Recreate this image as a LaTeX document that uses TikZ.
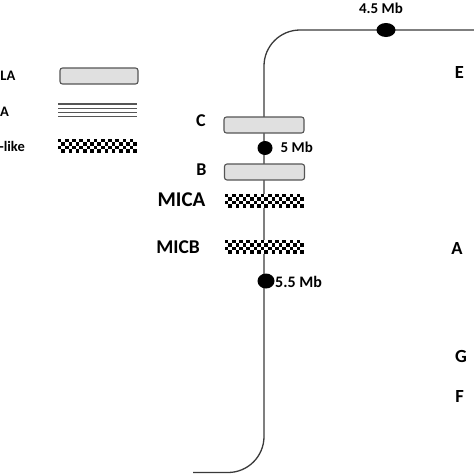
\documentclass[tikz,border=0pt]{standalone}
\usepackage{fontspec}
\setmainfont{Carlito}
\usetikzlibrary{shapes.geometric}
\definecolor{boxfill}{HTML}{E0E0E0}
\definecolor{boxline}{HTML}{555555}
\definecolor{chromline}{HTML}{3A3A3A}
\newcommand\checkfill[1]{%
  \foreach \i in {0,...,21}{\foreach \j in {0,...,3}{%
    \pgfmathtruncatemacro{\myparity}{mod(\i+\j,2)}%
    \ifnum\myparity=0
      \fill[black] ([xshift=\i*3.6pt, yshift=-\j*3.6pt]#1.north west) rectangle ++(3.6,3.6);
    \fi}}}
\tikzset{
  chrom/.style={draw=chromline, line width=1.3pt, rounded corners=36pt},
  genebox/.style={draw=boxline, fill=boxfill, rounded corners=2.5pt, line width=1.1pt,
    minimum width=80pt, minimum height=16pt, inner sep=0pt},
  checkbar/.style={minimum width=79.2pt, minimum height=14.4pt, inner sep=0pt, fill=white},
  blob/.style={ellipse, fill=black, inner sep=0pt},
  lbl/.style={font=\bfseries\fontsize{18.5}{18.5}\selectfont, inner sep=0pt},
  mb/.style={font=\bfseries\fontsize{15}{15}\selectfont, inner sep=0pt},
  leg/.style={font=\bfseries\fontsize{14.5}{14.5}\selectfont, inner sep=0pt, anchor=east},
  legline/.style={draw=boxline, line width=1.1pt}
}
\begin{document}
\begin{tikzpicture}[x=1pt,y=-1pt]
\useasboundingbox (0,0) rectangle (474,474);
% chromosome line
\coordinate (lowend) at (193,472.5);
\coordinate (lowcorner) at (264,472.5);
\coordinate (topcorner) at (264,30);
\coordinate (topend) at (474,30);
\draw[chrom] (lowend) -- (lowcorner) -- (topcorner) -- (topend);
% legend
\node[genebox, minimum width=78pt] (legbox) at (99,76) {};
\coordinate (l1a) at (58,104);   \coordinate (l1b) at (137,104);
\coordinate (l2a) at (58,108.2); \coordinate (l2b) at (137,108.2);
\coordinate (l3a) at (58,112.4); \coordinate (l3b) at (137,112.4);
\coordinate (l4a) at (58,116.6); \coordinate (l4b) at (137,116.6);
\draw[legline] (l1a) -- (l1b);
\draw[legline] (l2a) -- (l2b);
\draw[legline] (l3a) -- (l3b);
\draw[legline] (l4a) -- (l4b);
\node[checkbar] (legcheck) at (97.6,146) {};
\checkfill{legcheck}
\node[leg] (legt1) at (15.5,76) {LA};
\node[leg] (legt2) at (9,112) {A};
\node[leg] (legt3) at (25,146.5) {-like};
% genes
\node[genebox] (boxC) at (264,125) {};
\node[genebox] (boxB) at (264.5,172) {};
\node[checkbar] (mica) at (264.6,201) {};
\checkfill{mica}
\node[checkbar] (micb) at (264.6,247) {};
\checkfill{micb}
% markers
\node[blob, minimum width=19pt, minimum height=14pt] (d45) at (386,30) {};
\node[blob, minimum width=15pt, minimum height=14pt] (d5) at (265,148) {};
\node[blob, minimum width=17pt, minimum height=15pt] (d55) at (266,281) {};
\node[mb] (t45) at (381,8) {4.5 Mb};
\node[mb, anchor=west] (t5) at (280.5,147.5) {5 Mb};
\node[mb, anchor=west, font=\bfseries\fontsize{16}{16}\selectfont] (t55) at (275,282) {5.5 Mb};
% labels
\node[lbl, font=\bfseries\fontsize{18}{18}\selectfont] (tC) at (201,121) {C};
\node[lbl, font=\bfseries\fontsize{18}{18}\selectfont] (tB) at (201.5,170) {B};
\node[lbl, font=\bfseries\fontsize{21}{21}\selectfont] (tMICA) at (181.5,199.5) {MICA};
\node[lbl, font=\bfseries\fontsize{19.5}{19.5}\selectfont] (tMICB) at (178,247.5) {MICB};
\node[lbl] (tE) at (459.5,72) {E};
\node[lbl] (tA) at (457,248.5) {A};
\node[lbl] (tG) at (461,356) {G};
\node[lbl] (tF) at (459.5,396) {F};
\end{tikzpicture}
\end{document}
